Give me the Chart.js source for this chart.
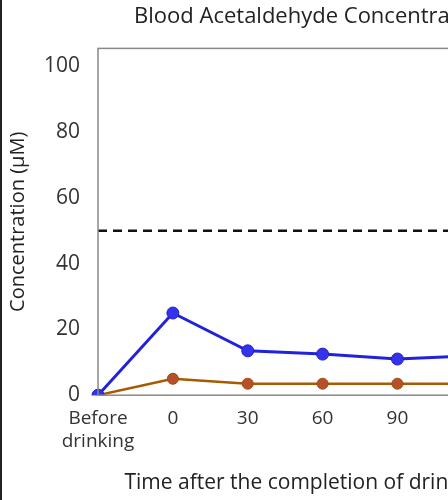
<!DOCTYPE html>
<html>
<head>
<meta charset="utf-8">
<script src="https://cdn.jsdelivr.net/npm/chart.js@4"></script>
<style>
  body { margin: 0; background: #fff; }
  #wrap { width: 448px; height: 500px; overflow: hidden; position: relative; border-left: 2px solid #222; box-sizing: border-box; }
  #box { width: 744px; height: 500px; position: absolute; left: -2px; top: 0; }
</style>
</head>
<body>
<div id="wrap"><div id="box"><canvas id="chart"></canvas></div></div>
<script>
const timeLabels = [['Before', 'drinking'], '0', '30', '60', '90', '120', '150', '180'];
const blueValues = [0, 25, 13.5, 12.5, 11, 12, 11, 10];
const brownValues = [0, 5, 3.5, 3.5, 3.5, 3.5, 3, 3];
const limitValues = [50, 50, 50, 50, 50, 50, 50, 50];
const yTicks = [0, 20, 40, 60, 80, 100];

// draws the frame around the plot
const frame = {
    id: 'frame',
    afterDraw(chart) {
        const a = chart.chartArea;
        const c = chart.ctx;
        c.save();
        c.strokeStyle = '#888';
        c.lineWidth = 1.5;
        c.strokeRect(a.left, a.top, a.right - a.left, a.bottom - a.top);
        c.restore();
    },
};

const ctx = document.getElementById('chart').getContext('2d');
new Chart(ctx, {
    type: 'line',
    data: {
        labels: timeLabels,
        datasets: [{
            data: limitValues,
            borderColor: '#111',
            borderWidth: 2.5,
            borderDash: [9, 6],
            pointRadius: 0,
        }, {
            data: blueValues,
            borderColor: '#2222dd',
            backgroundColor: '#3333ee',
            borderWidth: 3,
            pointRadius: 6,
            pointBorderColor: '#2222bb',
            pointBorderWidth: 1,
        }, {
            data: brownValues,
            borderColor: '#a85a00',
            backgroundColor: '#b5502a',
            borderWidth: 2.5,
            pointRadius: 5.5,
            pointBorderColor: '#a04a10',
            pointBorderWidth: 1,
        }],
    },
    options: {
        responsive: true,
        maintainAspectRatio: false,
        animation: false,
        layout: { padding: { top: 4, right: 122, left: 2 } },
        plugins: {
            legend: { display: false },
            tooltip: { enabled: false },
            title: {
                display: true,
                text: 'Blood Acetaldehyde Concentration',
                color: '#222',
                font: { family: 'Open Sans', size: 22, weight: 'normal' },
                padding: { top: 0, bottom: 18 },
            },
        },
        scales: {
            x: {
                offset: false,
                grid: { display: false },
                border: { display: false },
                ticks: { color: '#333', font: { family: 'Open Sans', size: 19 }, padding: 4, maxRotation: 0, autoSkip: false },
                title: {
                    display: true,
                    text: '\u2003 Time after the completion of drinking (min)',
                    color: '#222',
                    font: { family: 'Open Sans', size: 21 },
                    align: 'start',
                    padding: { top: 14 },
                },
            },
            y: {
                min: 0,
                max: 105.5,
                grid: { display: false },
                border: { display: false },
                afterBuildTicks: (s) => { s.ticks = yTicks.map(v => ({ value: v })); },
                ticks: { color: '#333', font: { family: 'Open Sans', size: 21 }, padding: 10 },
                title: {
                    display: true,
                    text: 'Concentration (μM)',
                    color: '#222',
                    font: { family: 'Open Sans', size: 20 },
                    padding: { bottom: 4 },
                },
            },
        },
    },
    plugins: [frame],
});
</script>
</body>
</html>
